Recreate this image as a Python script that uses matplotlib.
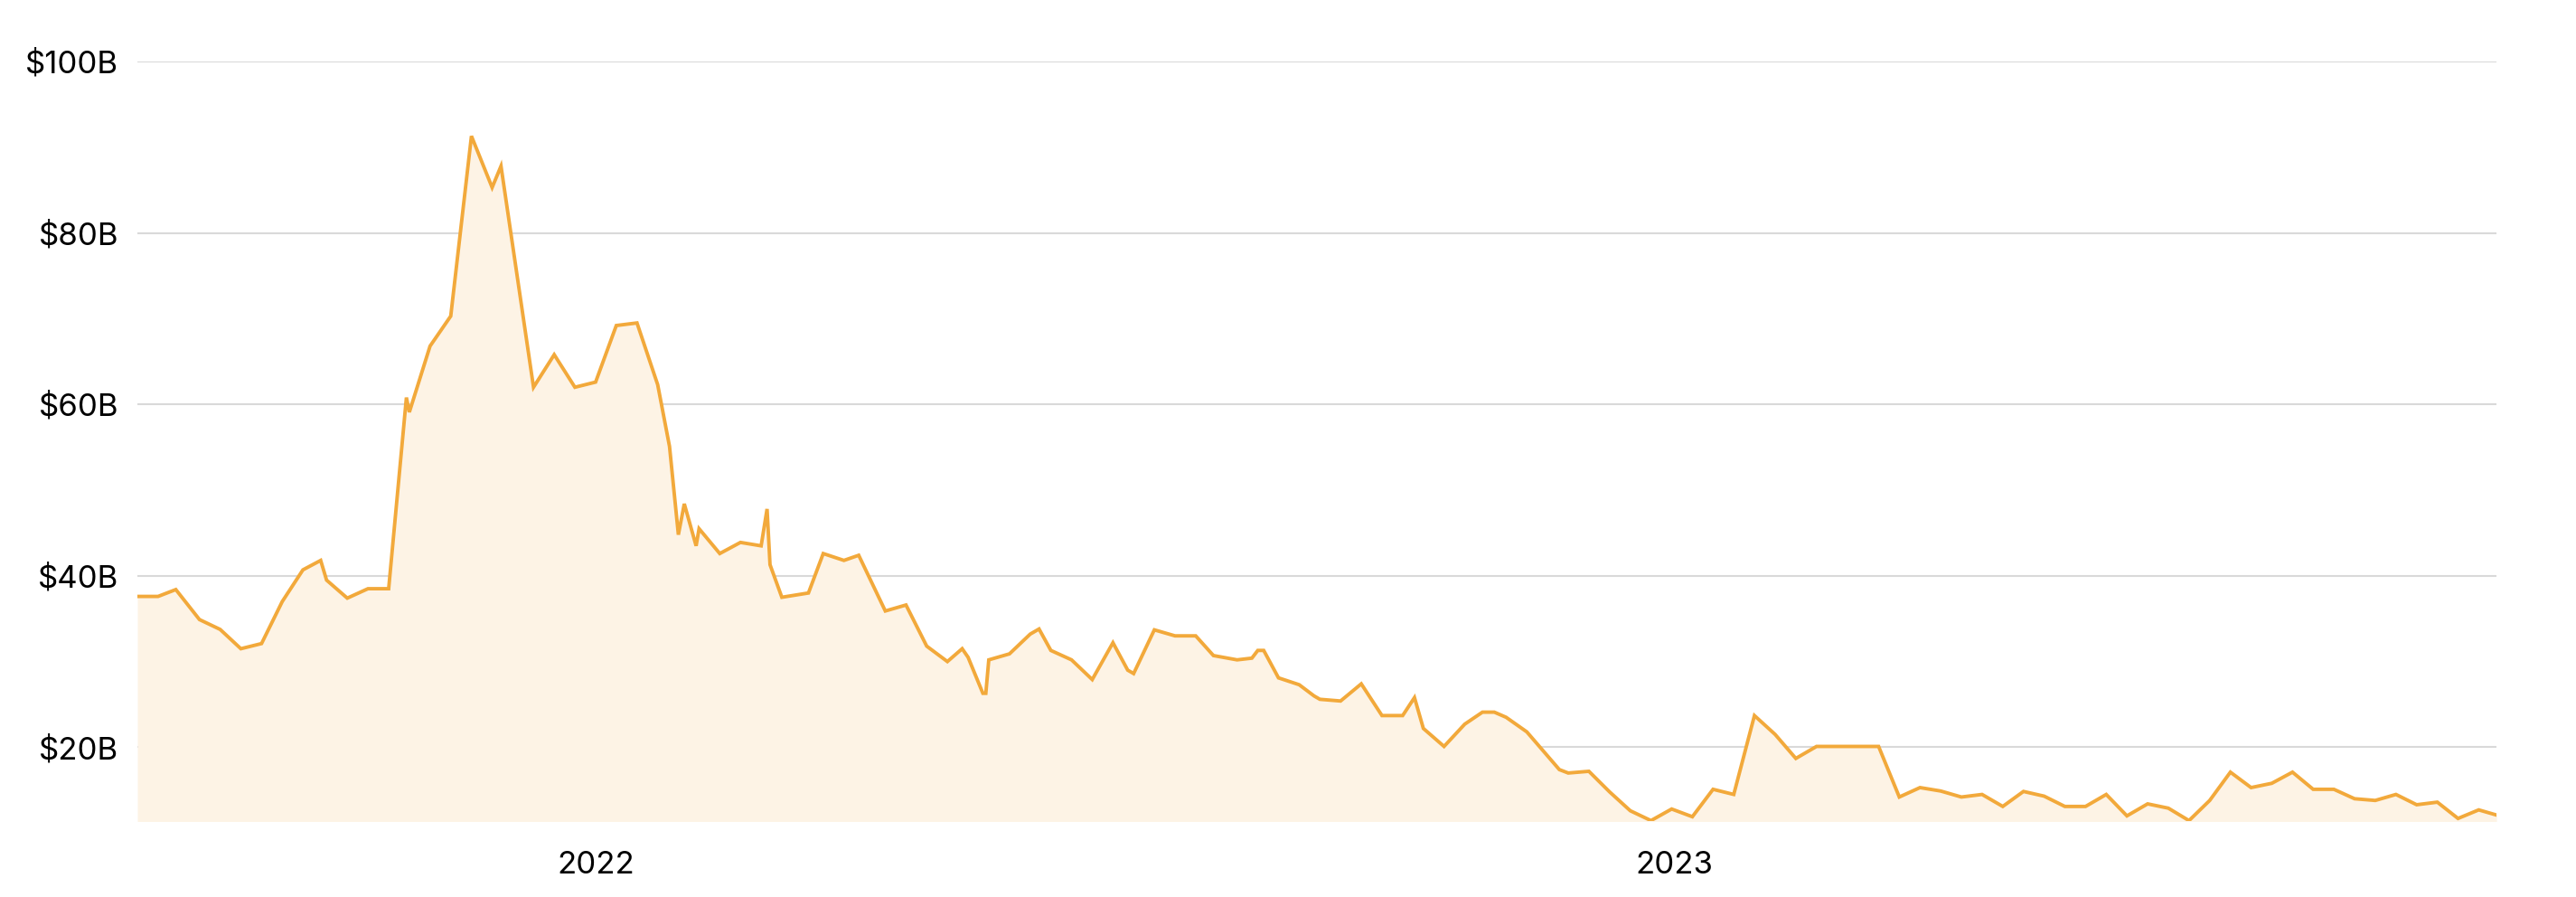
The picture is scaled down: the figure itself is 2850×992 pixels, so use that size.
import matplotlib
matplotlib.use("Agg")
import matplotlib.pyplot as plt
import matplotlib.dates as mdates
import numpy as np
import pandas as pd

dates = [
    "2021-07-30", "2021-08-06", "2021-08-12", "2021-08-20", "2021-08-27", "2021-09-03",
    "2021-09-10", "2021-09-17", "2021-09-24", "2021-09-30", "2021-10-02", "2021-10-09",
    "2021-10-16", "2021-10-23", "2021-10-29", "2021-10-30", "2021-11-06", "2021-11-13",
    "2021-11-20", "2021-11-27", "2021-11-30", "2021-12-11", "2021-12-18", "2021-12-25",
    "2022-01-01", "2022-01-08", "2022-01-15", "2022-01-22", "2022-01-26", "2022-01-29",
    "2022-01-31", "2022-02-04", "2022-02-05", "2022-02-12", "2022-02-19", "2022-02-26",
    "2022-02-28", "2022-03-01", "2022-03-05", "2022-03-14", "2022-03-19", "2022-03-26",
    "2022-03-31", "2022-04-09", "2022-04-16", "2022-04-23", "2022-04-30", "2022-05-05",
    "2022-05-07", "2022-05-12", "2022-05-13", "2022-05-14", "2022-05-21", "2022-05-28",
    "2022-05-31", "2022-06-04", "2022-06-11", "2022-06-18", "2022-06-25", "2022-06-30",
    "2022-07-02", "2022-07-09", "2022-07-16", "2022-07-23", "2022-07-29", "2022-08-06",
    "2022-08-11", "2022-08-13", "2022-08-15", "2022-08-20", "2022-08-27", "2022-09-01",
    "2022-09-03", "2022-09-10", "2022-09-17", "2022-09-24", "2022-10-01", "2022-10-05",
    "2022-10-08", "2022-10-15", "2022-10-22", "2022-10-28", "2022-11-01", "2022-11-05",
    "2022-11-12", "2022-11-23", "2022-11-26", "2022-12-03", "2022-12-10", "2022-12-17",
    "2022-12-24", "2022-12-31", "2023-01-07", "2023-01-14", "2023-01-21", "2023-01-28",
    "2023-02-04", "2023-02-11", "2023-02-18", "2023-02-25", "2023-03-04", "2023-03-11",
    "2023-03-18", "2023-03-25", "2023-04-01", "2023-04-08", "2023-04-15", "2023-04-22",
    "2023-04-29", "2023-05-06", "2023-05-13", "2023-05-20", "2023-05-27", "2023-06-03",
    "2023-06-10", "2023-06-17", "2023-06-24", "2023-07-01", "2023-07-08", "2023-07-15",
    "2023-07-22", "2023-07-29", "2023-08-05", "2023-08-12", "2023-08-19", "2023-08-26",
    "2023-09-02", "2023-09-09", "2023-09-16", "2023-09-23", "2023-09-30", "2023-10-06",
]

values_b = [
    37.6, 37.6, 38.4, 34.9, 33.75, 31.5,
    32.1, 37.0, 40.7, 41.8, 39.5, 37.4,
    38.5, 38.5, 60.8, 59.1, 66.8, 70.3,
    91.3, 85.3, 87.8, 62.0, 65.8, 62.0,
    62.6, 69.2, 69.5, 62.3, 55.1, 44.8,
    48.4, 43.5, 45.5, 42.6, 43.9, 43.5,
    47.8, 41.3, 37.5, 38.0, 42.6, 41.8,
    42.4, 35.9, 36.6, 31.8, 30.0, 31.5,
    30.5, 26.3, 26.3, 30.2, 30.9, 33.2,
    33.8, 31.3, 30.2, 27.9, 32.2, 29.0,
    28.6, 33.7, 33.0, 33.0, 30.7, 30.2,
    30.4, 31.3, 31.3, 28.1, 27.3, 26.0,
    25.6, 25.4, 27.4, 23.7, 23.7, 25.8,
    22.2, 20.1, 22.7, 24.1, 24.1, 23.5,
    21.8, 17.4, 17.0, 17.2, 14.8, 12.6,
    11.45, 12.8, 11.9, 15.1, 14.5, 23.7,
    21.5, 18.7, 20.1, 20.1, 20.1, 20.1,
    14.2, 15.3, 14.9, 14.2, 14.5, 13.1,
    14.85, 14.3, 13.1, 13.1, 14.5, 12.0,
    13.4, 12.9, 11.45, 13.8, 17.1, 15.3,
    15.8, 17.1, 15.1, 15.1, 14.0, 13.8,
    14.5, 13.3, 13.6, 11.7, 12.7, 12.1,
]

y_ticks = [20, 40, 60, 80, 100]
y_tick_labels = ["$20B", "$40B", "$60B", "$80B", "$100B"]
x_ticks = ["2022-01-01", "2023-01-01"]
x_tick_labels = ["2022", "2023"]

plt.rcParams["font.family"] = ["Inter", "DejaVu Sans"]

x = pd.to_datetime(dates)
y = np.array(values_b)

fig = plt.figure(figsize=(28.5, 9.92), dpi=100)
ax = fig.add_axes([152 / 2850, 1 - 907.5 / 992, (2762 - 152) / 2850, (907.5 - 68) / 992])

ymin = y.min()
ax.fill_between(x, y, ymin - 5, color="#FDF3E5", linewidth=0, zorder=1)
ax.plot(x, y, color="#F2A93B", linewidth=2.8, solid_joinstyle="miter", zorder=3)

ax.set_xlim(x[0], x[-1])
ax.set_ylim(ymin, 100)

ax.set_yticks(y_ticks)
ax.set_yticklabels(y_tick_labels)
ax.set_xticks(pd.to_datetime(x_ticks))
ax.set_xticklabels(x_tick_labels)

ax.grid(axis="y", color="#D9D9D9", linewidth=1.5, zorder=0)
ax.grid(axis="x", visible=False)
ax.set_axisbelow(True)
for s in ax.spines.values():
    s.set_visible(False)
ax.tick_params(axis="both", length=0, labelsize=25, colors="#000000")
ax.tick_params(axis="y", pad=15)
ax.tick_params(axis="x", pad=24)
ax.set_facecolor("white")

fig.savefig("out.png", dpi=100, facecolor="white")
